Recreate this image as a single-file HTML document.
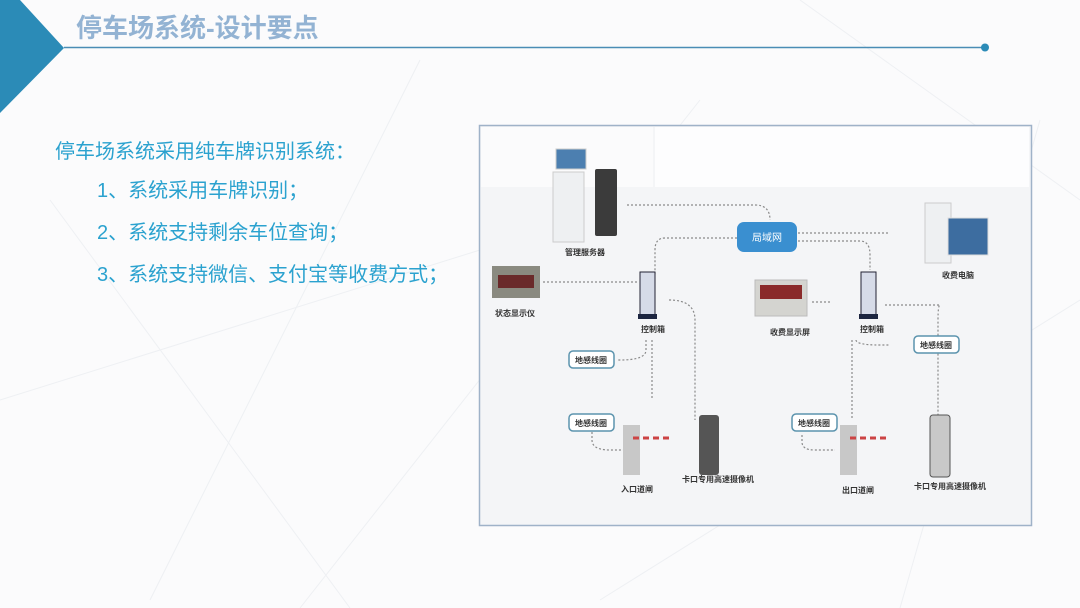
<!DOCTYPE html>
<html><head><meta charset="utf-8"><style>
body{margin:0;width:1080px;height:608px;background:#fbfbfc;overflow:hidden;position:relative;font-family:"Liberation Sans","Noto Sans CJK SC",sans-serif}
.t{position:absolute;color:#2ba2cf;font-size:20px;white-space:nowrap;line-height:24px}
</style></head><body>
<svg width="1080" height="608" style="position:absolute;left:0;top:0">
<g stroke="#eef0f3" stroke-width="1" fill="none">
<path d="M150 600 L420 60 M300 608 L700 100 M0 400 L480 250 M600 600 L1080 300 M800 0 L1080 200 M50 200 L350 608 M1040 120 L900 608"/>
</g>
<polygon points="0,0 20,0 64,48 0,113" fill="#2b8bb7"/>
<line x1="64" y1="47.5" x2="985" y2="47.5" stroke="#4a8db5" stroke-width="1.5"/>
<circle cx="985" cy="47.5" r="4" fill="#2b8bb7"/>
<text x="76" y="37" font-size="26" font-weight="bold" fill="#93b3d3" font-family="Liberation Sans,Noto Sans CJK SC,sans-serif">停车场系统-设计要点</text>

<rect x="479.5" y="125.5" width="552" height="400" fill="#f4f5f7" stroke="#9fb2c8" stroke-width="1.5"/>
<rect x="481" y="127" width="172" height="60" fill="#fbfbfc"/>
<rect x="655" y="127" width="374" height="60" fill="#fdfdfe"/>
<g stroke="#8a8a8a" stroke-width="1.2" stroke-dasharray="2,2" fill="none">
<path d="M627 205 H755 Q770 205 770 220"/>
<path d="M737 238 H665 Q655 238 655 250 V275"/>
<path d="M790 233 H890"/>
<path d="M790 241 H860 Q870 241 870 255 V270"/>
<path d="M543 282 H638"/>
<path d="M669 300 Q695 300 695 320 V420"/>
<path d="M646 340 V350 Q646 360 620 360 H618"/>
<path d="M652 340 V400"/>
<path d="M592 432 V440 Q592 450 610 450 H625"/>
<path d="M812 302 H830"/>
<path d="M885 305 H940 Q938 305 938 320 V420"/>
<path d="M856 340 Q856 345 880 345 H890"/>
<path d="M852 340 V418"/>
<path d="M802 435 V442 Q802 450 815 450 H835"/>
</g>
<rect x="737" y="222" width="60" height="30" rx="7" fill="#3a8fd0"/>
<text x="767" y="241" font-size="10" fill="#fff" text-anchor="middle">局域网</text>
<rect x="556" y="149" width="30" height="20" fill="#4c7fb0" stroke="#ccc"/>
<rect x="553" y="172" width="31" height="70" fill="#eef0f2" stroke="#ccc"/>
<rect x="595" y="169" width="22" height="67" rx="2" fill="#3b3b3b"/>
<g font-weight="bold">
<text x="585" y="255" font-size="8" fill="#333" text-anchor="middle">管理服务器</text>
<rect x="925" y="203" width="26" height="60" fill="#eef0f2" stroke="#ccc"/>
<rect x="948" y="218" width="40" height="37" fill="#3d6da0" stroke="#ddd"/>
<text x="958" y="278" font-size="8" fill="#333" text-anchor="middle">收费电脑</text>
<rect x="492" y="266" width="48" height="32" fill="#8a8a80"/>
<rect x="498" y="275" width="36" height="13" fill="#6a2a2a"/>
<text x="515" y="316" font-size="8" fill="#333" text-anchor="middle">状态显示仪</text>
<rect x="640" y="272" width="15" height="44" fill="#d6dbe8" stroke="#223" stroke-width="1"/>
<rect x="638" y="314" width="19" height="5" fill="#1c2540"/>
<text x="653" y="332" font-size="8" fill="#333" text-anchor="middle">控制箱</text>
<rect x="861" y="272" width="15" height="44" fill="#d6dbe8" stroke="#223" stroke-width="1"/>
<rect x="859" y="314" width="19" height="5" fill="#1c2540"/>
<text x="872" y="332" font-size="8" fill="#333" text-anchor="middle">控制箱</text>
<rect x="755" y="280" width="52" height="36" fill="#d4d4d0" stroke="#bbb"/>
<rect x="760" y="285" width="42" height="14" fill="#8a2a2a"/>
<text x="790" y="335" font-size="8" fill="#333" text-anchor="middle">收费显示屏</text>
<g fill="#fff" stroke="#5b93ad" stroke-width="1.5">
<rect x="569" y="351" width="45" height="17" rx="4"/>
<rect x="569" y="414" width="45" height="17" rx="4"/>
<rect x="792" y="414" width="45" height="17" rx="4"/>
<rect x="914" y="336" width="45" height="17" rx="4"/>
</g>
<g font-size="8" fill="#333" text-anchor="middle">
<text x="591" y="363">地感线圈</text><text x="591" y="426">地感线圈</text>
<text x="814" y="426">地感线圈</text><text x="936" y="348">地感线圈</text>
</g>
<rect x="623" y="425" width="17" height="50" fill="#c8c8c8"/>
<line x1="633" y1="438" x2="673" y2="438" stroke="#c44" stroke-width="3" stroke-dasharray="6,4"/>
<rect x="699" y="415" width="20" height="60" rx="3" fill="#555"/>
<text x="637" y="492" font-size="8" fill="#333" text-anchor="middle">入口道闸</text>
<text x="718" y="482" font-size="8" fill="#333" text-anchor="middle">卡口专用高速摄像机</text>
<rect x="840" y="425" width="17" height="50" fill="#c8c8c8"/>
<line x1="850" y1="438" x2="890" y2="438" stroke="#c44" stroke-width="3" stroke-dasharray="6,4"/>
<rect x="930" y="415" width="20" height="62" rx="3" fill="#c8c8c8" stroke="#555"/>
<text x="858" y="493" font-size="8" fill="#333" text-anchor="middle">出口道闸</text>
<text x="950" y="489" font-size="8" fill="#333" text-anchor="middle">卡口专用高速摄像机</text>
</g>
</svg>
<div class="t" style="left:55px;top:140px">停车场系统采用纯车牌识别系统：</div>
<div class="t" style="left:97px;top:179px">1、系统采用车牌识别；</div>
<div class="t" style="left:97px;top:221px">2、系统支持剩余车位查询；</div>
<div class="t" style="left:97px;top:263px">3、系统支持微信、支付宝等收费方式；</div>
</body></html>
